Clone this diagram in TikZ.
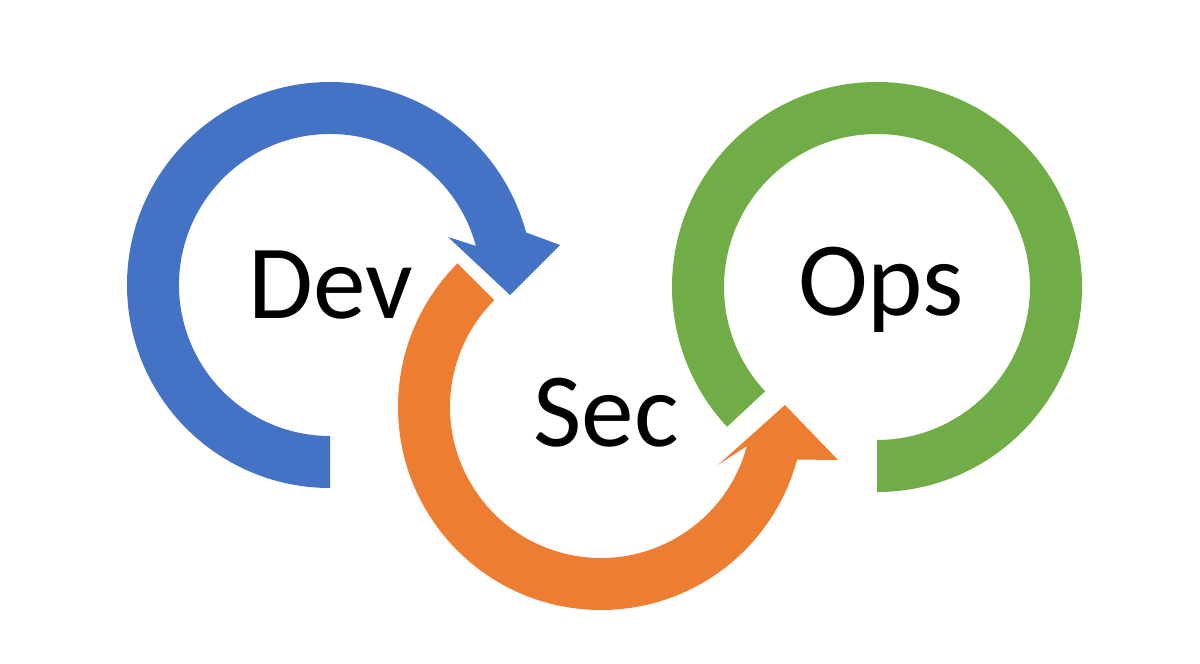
\documentclass[tikz,border=0pt]{standalone}
\usepackage{fontspec}
\setmainfont{Carlito}
\usetikzlibrary{calc}
\begin{document}
\begin{tikzpicture}[x=0.02cm,y=0.02cm]
\definecolor{cblue}{HTML}{4472C4}
\definecolor{corange}{HTML}{ED7D31}
\definecolor{cgreen}{HTML}{70AD47}
\tikzset{lbl/.style={font=\fontsize{60}{66}\selectfont, text=black}}
\useasboundingbox (0,0) rectangle (1200,663);
\coordinate (cb) at (330,378);
\coordinate (co) at (601,256);
\coordinate (cg) at (877,376);
% blue
\fill[cblue] ($(cb)+(-90:203)$) arc[start angle=-90,end angle=-345,radius=203]
  -- (560,418) -- (510,368) -- (448,426) -- ($(cb)+(-345:151)$)
  arc[start angle=-345,end angle=-90,radius=151] -- cycle;
% orange
\fill[corange] ($(co)+(135:203)$) arc[start angle=135,end angle=345,radius=203]
  -- (838,203) -- (785,258) -- (718,198) -- ($(co)+(345:151)$)
  arc[start angle=345,end angle=135,radius=151] -- cycle;
% green
\fill[cgreen] ($(cg)+(-90:205)$) arc[start angle=-90,end angle=223,radius=205]
  -- ($(cg)+(223:153)$) arc[start angle=223,end angle=-90,radius=153] -- cycle;
\node[lbl] (dev) at (331,378) {Dev};
\node[lbl] (sec) at (606,250) {Sec};
\node[lbl] (ops) at (881,373) {Ops};
\end{tikzpicture}
\end{document}
